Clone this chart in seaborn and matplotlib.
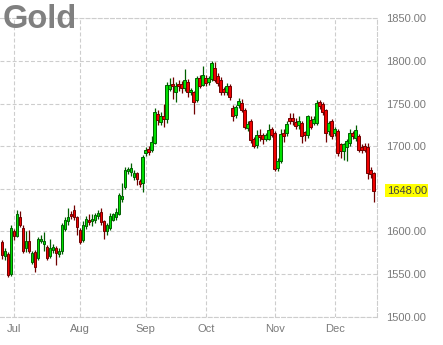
import numpy as np
import pandas as pd
import matplotlib
matplotlib.use("Agg")
import matplotlib.pyplot as plt
import seaborn as sns

# daily gold candles, late Jun - Dec 2012
opens = [1587.5, 1571, 1574, 1550, 1600, 1595, 1617, 1604, 1580, 1589,
         1564, 1576, 1569, 1589, 1585, 1582, 1571, 1578, 1580, 1573,
         1577, 1603, 1612, 1621, 1625, 1617, 1602, 1590, 1606, 1614,
         1612, 1614, 1618, 1623, 1612, 1600, 1604, 1614, 1617, 1621,
         1638, 1652, 1671, 1670, 1664, 1668, 1659, 1657, 1692, 1697,
         1695, 1704, 1738, 1728, 1735, 1732, 1767, 1773, 1763, 1773.5,
         1773, 1768, 1775, 1764, 1763, 1754, 1780, 1772, 1780, 1775,
         1779, 1792, 1782, 1778, 1766.5, 1763, 1770, 1745, 1736, 1748,
         1751, 1743, 1721, 1730, 1709, 1701, 1713, 1713, 1709, 1709,
         1720.5, 1715.5, 1674.5, 1683, 1715.5, 1715.5, 1733, 1733, 1728.5, 1724.5,
         1727.5, 1716.5, 1713.5, 1731, 1727.5, 1727.5, 1751.5, 1749, 1742, 1717.5,
         1729, 1716, 1717.5, 1702, 1694, 1699, 1704, 1715.5, 1710, 1712,
         1699, 1700, 1699, 1672, 1668.5]
highs = [1590, 1580, 1576, 1608, 1603, 1625, 1624, 1607, 1600, 1602,
         1577, 1578, 1593, 1596, 1599, 1584, 1591, 1585, 1583, 1580,
         1610, 1617, 1627, 1624, 1631, 1618, 1604, 1612, 1618, 1620,
         1620, 1622, 1625, 1628, 1614, 1610, 1622, 1622, 1627, 1645,
         1657, 1676, 1676, 1680, 1672, 1670, 1661, 1690, 1699, 1700,
         1712, 1745, 1742, 1740, 1750, 1775, 1780, 1781, 1775, 1778,
         1776, 1790, 1779, 1768, 1765, 1782, 1783, 1794, 1784, 1782,
         1800, 1799, 1786, 1781, 1769, 1774, 1773, 1748, 1748, 1756,
         1755, 1745, 1729, 1732, 1711, 1719, 1720, 1716, 1716, 1726,
         1723, 1718, 1686, 1720, 1720, 1729, 1739, 1739, 1733, 1735,
         1730, 1718, 1737, 1735, 1735, 1754, 1754, 1752, 1744, 1730,
         1732, 1722, 1720, 1704, 1704, 1708, 1720, 1718, 1725, 1714,
         1702, 1704, 1704, 1676, 1670]
lows = [1568, 1566, 1546, 1548, 1590, 1593, 1605, 1575, 1576, 1575,
        1562, 1553, 1566, 1586, 1577, 1566, 1569, 1575, 1561, 1570,
        1574, 1600, 1608, 1615, 1614, 1596, 1585, 1588, 1603, 1608,
        1606, 1610, 1615, 1608, 1591, 1596, 1602, 1612, 1614, 1619,
        1635, 1650, 1667, 1665, 1660, 1654, 1652, 1646, 1689, 1690,
        1693, 1702, 1725, 1725, 1723, 1727, 1765, 1755, 1752, 1765,
        1762, 1765, 1758, 1760, 1738, 1752, 1768, 1770, 1770, 1772,
        1776, 1775, 1770, 1760, 1760, 1760, 1754, 1729, 1733, 1745,
        1740, 1720, 1718, 1704, 1698, 1698, 1706, 1703, 1706, 1707,
        1711, 1671, 1671, 1680, 1705, 1712, 1726, 1725, 1720, 1720,
        1704, 1706, 1710, 1720, 1725, 1725, 1744, 1737, 1705, 1713,
        1708, 1712, 1688, 1686, 1684, 1683, 1700, 1708, 1706, 1693,
        1692, 1693, 1662, 1663, 1635]
closes = [1572, 1577.5, 1549, 1604, 1595, 1621, 1607, 1577, 1589, 1577,
          1575, 1558, 1591, 1591, 1589, 1569, 1580, 1582, 1575, 1577,
          1608, 1614, 1617, 1618, 1617, 1605, 1588, 1608, 1615, 1611,
          1615, 1619, 1622, 1611, 1600, 1608, 1618, 1620, 1623, 1643,
          1641, 1672, 1673, 1674, 1669, 1661, 1656, 1687, 1696, 1693,
          1705, 1740, 1731, 1735, 1732, 1772, 1772, 1770, 1771, 1770,
          1768, 1778, 1763, 1766, 1752, 1780, 1771, 1784, 1774, 1780,
          1798, 1778, 1774, 1763, 1763, 1771, 1758, 1735, 1746, 1753,
          1743, 1722, 1726, 1707, 1700, 1713, 1710.5, 1708, 1713, 1719.5,
          1713.5, 1673.5, 1683, 1714, 1711.5, 1726, 1730, 1730, 1723.5, 1730,
          1712, 1713, 1735, 1722.5, 1732, 1751, 1747.5, 1740, 1715, 1727,
          1712, 1720, 1692, 1694, 1702, 1706, 1715.5, 1712, 1719, 1696,
          1695, 1696, 1669, 1667, 1648]

holidays = ["2012-08-27", "2012-11-22", "2012-11-23"]
dates = pd.bdate_range("2012-06-26", "2012-12-20", freq="C", holidays=holidays)
month_labels = ["Jul", "Aug", "Sep", "Oct", "Nov", "Dec"]
last_price = 1648.00

df = pd.DataFrame({"Date": dates, "Open": opens, "High": highs,
                   "Low": lows, "Close": closes})
df["x"] = np.arange(len(df))
df["up"] = df["Close"] >= df["Open"]

sns.set_style("white")
plt.rcParams["font.family"] = ["Liberation Sans", "DejaVu Sans"]

fig = plt.figure(figsize=(4.43, 3.45), dpi=100)
ax = fig.add_axes([0.0, 0.082, 0.8503, 0.865])

grid_col = "#cdcdcd"
wick_cols = np.where(df["up"], "#005f00", "#700000")
body_cols = np.where(df["up"], "#00e000", "#f00000")

ax.vlines(df["x"], df["Low"], df["High"], colors=wick_cols, linewidth=0.9, zorder=2)
bottom = df[["Open", "Close"]].min(axis=1)
height = (df["Close"] - df["Open"]).abs().clip(lower=1.0)
ax.bar(df["x"], height, bottom=bottom, width=0.8, color=body_cols,
       edgecolor=wick_cols, linewidth=0.7, zorder=3)

ax.set_xlim(-0.57, 125.0)
ax.set_ylim(1500, 1850)

# month ticks at the first trading day of each month
first_days = df.groupby(df["Date"].dt.to_period("M"))["x"].min()
ax.set_xticks(first_days.iloc[1:].values)
ax.set_xticklabels(month_labels)

yt = np.arange(1500, 1851, 50)
ax.set_yticks(yt)
ax.set_yticklabels(["" if v == 1650 else f"{v:.2f}" for v in yt])
ax.yaxis.tick_right()

ax.tick_params(axis="both", length=0, labelsize=8, labelcolor="#7a7a7a")
ax.tick_params(axis="y", pad=7)
ax.tick_params(axis="x", pad=5)

ax.grid(True, color=grid_col, linestyle=(0, (3.5, 2)), linewidth=0.8)
ax.set_axisbelow(True)
ax.spines["left"].set_visible(False)
for s in ["top", "right", "bottom"]:
    ax.spines[s].set_color(grid_col)
    ax.spines[s].set_linestyle((0, (3.5, 2)))
    ax.spines[s].set_linewidth(0.8)

ax.text(1.0 + 10 / 376.7, last_price, f"{last_price:.2f}",
        transform=ax.get_yaxis_transform(), ha="left", va="center",
        fontsize=8, color="#404040",
        bbox=dict(boxstyle="square,pad=0.15", fc="#ffff00", ec="none"))

fig.text(3 / 443, 1 - 28 / 345, "Gold", fontsize=23.5, fontweight="bold",
         color="#808080", ha="left", va="baseline")

plt.savefig("out.png", dpi=100)
